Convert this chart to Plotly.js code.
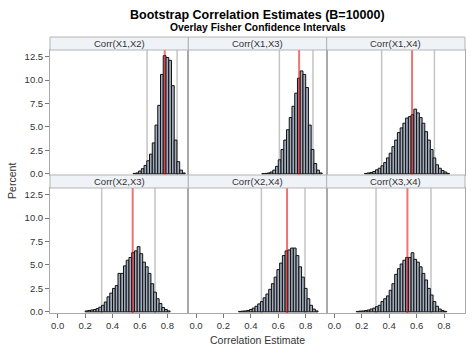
<!DOCTYPE html>
<html>
<head>
<meta charset="utf-8">
<script src="https://cdn.plot.ly/plotly-3.0.1.min.js"></script>
<style>html,body{margin:0;padding:0;background:#fff;}#chart{width:474px;height:355px;}</style>
</head>
<body>
<div id="chart"></div>
<script>
// ---- data ----
const panelLabels = ['Corr(X1,X2)','Corr(X1,X3)','Corr(X1,X4)','Corr(X2,X3)','Corr(X2,X4)','Corr(X3,X4)'];
const estimate = [0.781, 0.752, 0.567, 0.547, 0.664, 0.533];
const lowerCI  = [0.652, 0.608, 0.345, 0.321, 0.477, 0.304];
const upperCI  = [0.871, 0.853, 0.730, 0.710, 0.795, 0.705];

const bins12 = [0.56,0.58,0.60,0.62,0.64,0.66,0.68,0.70,0.72,0.74,0.76,0.78,0.80,0.82,0.84,0.86,0.88,0.90,0.92];
const pct12  = [0.05,0.1,0.3,0.55,0.9,1.4,2.1,3.3,5.2,7.3,10.6,12.6,12.4,12.1,9.4,3.6,1.3,0.4,0.1];

const bins13 = [0.49,0.51,0.53,0.55,0.57,0.59,0.61,0.63,0.65,0.67,0.69,0.71,0.73,0.75,0.77,0.79,0.81,0.83,0.85,0.87,0.89,0.91];
const pct13  = [0.03,0.05,0.1,0.2,0.4,0.8,1.5,2.6,3.6,4.7,6.0,7.2,8.6,10.2,10.97,10.6,9.2,5.2,2.6,1.1,0.4,0.1];

const bins14 = [0.23,0.25,0.27,0.29,0.31,0.33,0.35,0.37,0.39,0.41,0.43,0.45,0.47,0.49,0.51,0.53,0.55,0.57,0.59,0.61,0.63,0.65,0.67,0.69,0.71,0.73,0.75,0.77,0.79,0.81,0.83];
const pct14  = [0.05,0.1,0.15,0.25,0.43,0.6,0.86,1.2,1.7,2.2,2.9,3.6,4.4,4.9,5.4,5.95,6.1,6.3,6.9,6.5,6.0,5.4,4.5,3.6,2.6,1.7,0.97,0.6,0.36,0.2,0.05];

const bins23 = [0.21,0.23,0.25,0.27,0.29,0.31,0.33,0.35,0.37,0.39,0.41,0.43,0.45,0.47,0.49,0.51,0.53,0.55,0.57,0.59,0.61,0.63,0.65,0.67,0.69,0.71,0.73,0.75,0.77,0.79,0.81];
const pct23  = [0.1,0.15,0.2,0.25,0.35,0.5,0.7,1.05,1.6,2.0,2.5,2.8,4.1,4.1,4.9,5.5,5.8,6.3,6.5,6.95,6.2,5.3,4.8,4.1,3.0,2.1,1.4,0.9,0.46,0.25,0.1];

const bins24 = [0.32,0.34,0.36,0.38,0.40,0.42,0.44,0.46,0.48,0.50,0.52,0.54,0.56,0.58,0.60,0.62,0.64,0.66,0.68,0.70,0.72,0.74,0.76,0.78,0.80,0.82,0.84,0.86,0.88];
const pct24  = [0.05,0.08,0.1,0.15,0.25,0.4,0.6,0.85,1.1,1.5,1.9,2.4,3.0,3.7,4.5,5.2,6.0,6.5,6.6,6.8,6.8,6.0,4.8,3.7,2.5,1.4,0.7,0.3,0.1];

const bins34 = [0.17,0.19,0.21,0.23,0.25,0.27,0.29,0.31,0.33,0.35,0.37,0.39,0.41,0.43,0.45,0.47,0.49,0.51,0.53,0.55,0.57,0.59,0.61,0.63,0.65,0.67,0.69,0.71,0.73,0.75,0.77,0.79,0.81];
const pct34  = [0.05,0.08,0.1,0.15,0.2,0.3,0.4,0.55,0.7,1.1,1.4,1.7,2.3,3.0,4.0,4.6,5.1,5.5,5.8,5.8,6.3,5.6,5.3,4.8,4.1,3.4,2.5,1.8,1.1,0.6,0.3,0.15,0.05];

const xTicks = [0, 0.2, 0.4, 0.6, 0.8];
const yTicks = [0, 2.5, 5, 7.5, 10, 12.5];
const binWidth = 0.02;

// ---- build ----
const allBins = [bins12, bins13, bins14, bins23, bins24, bins34];
const allPct  = [pct12, pct13, pct14, pct23, pct24, pct34];

const FONT = 'Liberation Sans, Arial, sans-serif';
const frameColor = '#A9A9A9';
const colDom = [[0, 1/3], [1/3, 2/3], [2/3, 1]];
const rowDom = [[0.5, 0.9529], [0, 0.4529]];
const hdrDom = [[0.9529, 1], [0.4529, 0.5]];

const traces = [];
const layout = {
  width: 474, height: 355,
  margin: {l: 50, r: 9, t: 37, b: 42},
  paper_bgcolor: '#fff', plot_bgcolor: '#fff',
  font: {family: FONT, size: 9, color: '#333'},
  showlegend: false,
  bargap: 0,
  shapes: [], annotations: []
};

for (let i = 0; i < 6; i++) {
  const n = i + 1;
  const row = i < 3 ? 0 : 1;
  const col = i % 3;
  const xa = 'x' + (n === 1 ? '' : n);
  const ya = 'y' + (n === 1 ? '' : n);
  traces.push({
    type: 'bar', x: allBins[i], y: allPct[i], width: binWidth,
    xaxis: xa, yaxis: ya,
    marker: {color: '#A1ADBE', line: {color: '#111', width: 1}},
    hoverinfo: 'skip'
  });
  layout['xaxis' + (n === 1 ? '' : n)] = {
    domain: colDom[col], anchor: ya, range: [-0.056, 0.953],
    showline: true, mirror: true, linecolor: frameColor, linewidth: 1,
    showgrid: false, zeroline: false,
    tickvals: xTicks, tickformat: '.1f',
    showticklabels: row === 1, ticks: row === 1 ? 'outside' : '',
    ticklen: 4, tickcolor: '#777', tickfont: {size: 9.5, color: '#333', family: FONT}
  };
  layout['yaxis' + (n === 1 ? '' : n)] = {
    domain: rowDom[row], anchor: xa, range: [-0.12, 13.2],
    showline: true, mirror: true, linecolor: frameColor, linewidth: 1,
    showgrid: false, zeroline: false,
    tickvals: yTicks, tickformat: '.1f',
    showticklabels: col === 0, ticks: col === 0 ? 'outside' : '',
    ticklen: 4, tickcolor: '#777', tickfont: {size: 9.5, color: '#333', family: FONT}
  };
  // CI lines
  [lowerCI[i], upperCI[i]].forEach(v => layout.shapes.push({
    type: 'line', xref: xa, yref: ya + ' domain', x0: v, x1: v, y0: 0, y1: 1,
    line: {color: '#C4C4C4', width: 1.5}, layer: 'below'
  }));
  layout.shapes.push({
    type: 'line', xref: xa, yref: ya + ' domain', x0: estimate[i], x1: estimate[i], y0: 0, y1: 1,
    line: {color: 'rgba(225,0,0,0.55)', width: 2}, layer: 'above'
  });
  // header cell
  layout.shapes.push({
    type: 'rect', xref: 'paper', yref: 'paper',
    x0: colDom[col][0], x1: colDom[col][1], y0: hdrDom[row][0], y1: hdrDom[row][1],
    fillcolor: '#EFF2F7', line: {color: '#B4B4B4', width: 1}, layer: 'above'
  });
  layout.annotations.push({
    xref: 'paper', yref: 'paper', x: (colDom[col][0] + colDom[col][1]) / 2,
    y: (hdrDom[row][0] + hdrDom[row][1]) / 2, xanchor: 'center', yanchor: 'middle',
    text: panelLabels[i], showarrow: false, font: {size: 9.5, color: '#333', family: FONT}
  });
}

layout.annotations.push(
  {xref: 'paper', yref: 'paper', x: 0.5, y: 1.079, xanchor: 'center', yanchor: 'middle',
   text: '<b>Bootstrap Correlation Estimates (B=10000)</b>', showarrow: false,
   font: {size: 12.5, color: '#000', family: FONT}},
  {xref: 'paper', yref: 'paper', x: 0.5, y: 1.036, xanchor: 'center', yanchor: 'middle',
   text: '<b>Overlay Fisher Confidence Intervals</b>', showarrow: false,
   font: {size: 10.3, color: '#000', family: FONT}},
  {xref: 'paper', yref: 'paper', x: 0.5, y: -0.098, xanchor: 'center', yanchor: 'middle',
   text: 'Correlation Estimate', showarrow: false, font: {size: 10.5, color: '#333', family: FONT}},
  {xref: 'paper', yref: 'paper', x: -0.092, y: 0.478, xanchor: 'center', yanchor: 'middle',
   text: 'Percent', textangle: -90, showarrow: false, font: {size: 10.5, color: '#333', family: FONT}}
);

Plotly.newPlot('chart', traces, layout, {staticPlot: true, displayModeBar: false});
</script>
</body>
</html>
